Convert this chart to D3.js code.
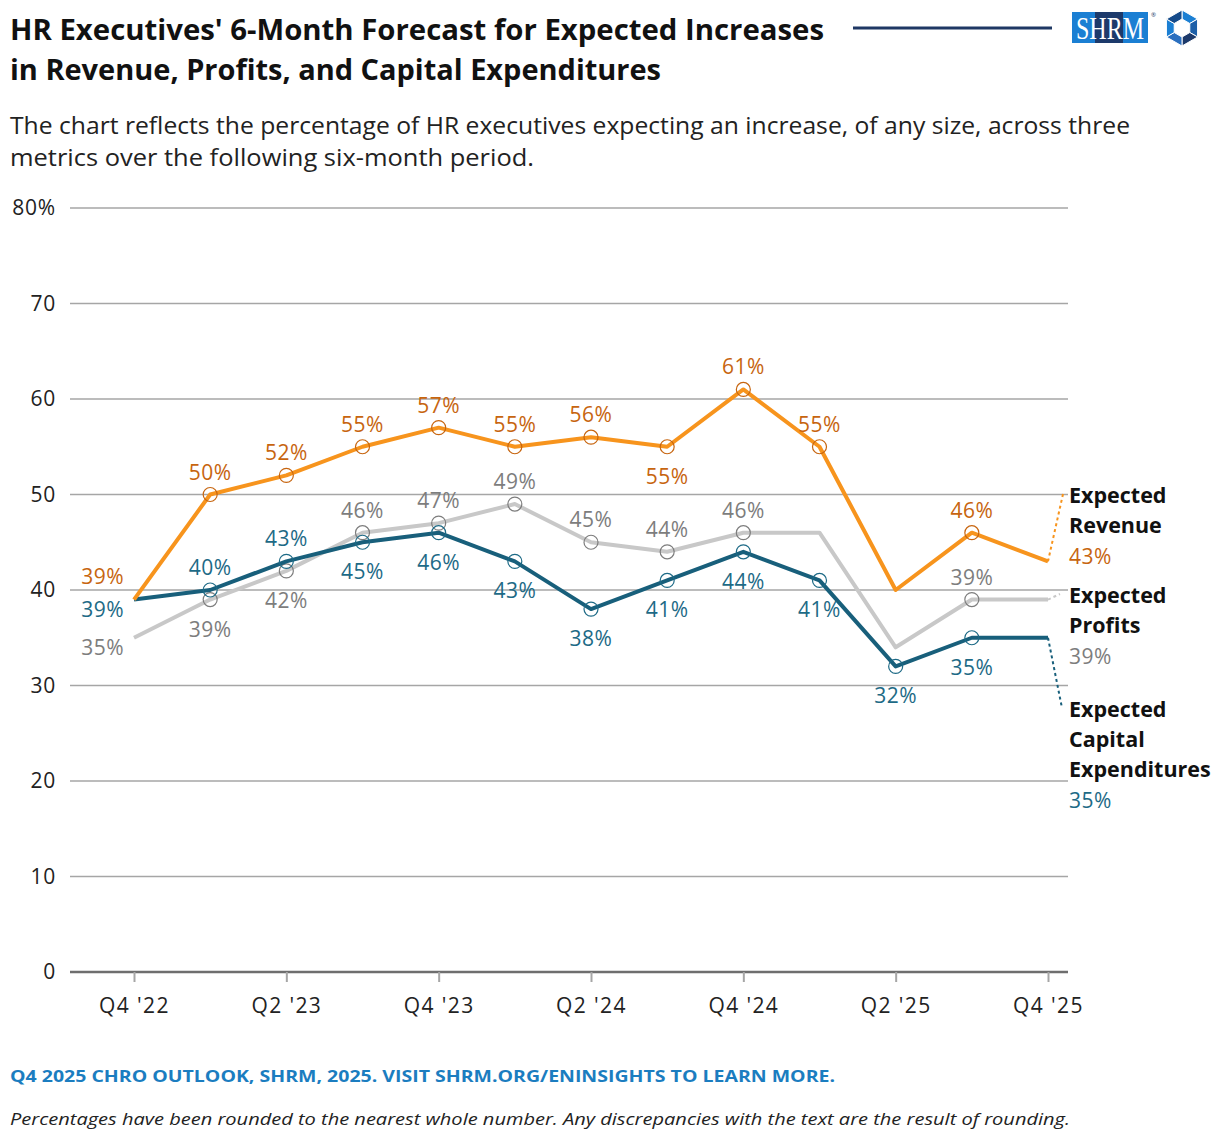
<!DOCTYPE html>
<html>
<head>
<meta charset="utf-8">
<script src="https://cdn.jsdelivr.net/npm/d3@7"></script>
<style>
  body { margin: 0; background: #fff; }
  svg { display: block; font-family: "Open Sans", sans-serif; }
</style>
</head>
<body>
<div id="chart"></div>
<script>
// quarters shown on the x axis (every quarter is a data point)
const quarters = ["Q4 '22", "Q1 '23", "Q2 '23", "Q3 '23", "Q4 '23", "Q1 '24", "Q2 '24",
                  "Q3 '24", "Q4 '24", "Q1 '25", "Q2 '25", "Q3 '25", "Q4 '25"];
const tickQuarters = ["Q4 '22", "Q2 '23", "Q4 '23", "Q2 '24", "Q4 '24", "Q2 '25", "Q4 '25"];
const yTicks = [0, 10, 20, 30, 40, 50, 60, 70, 80];

const revenue = [39, 50, 52, 55, 57, 55, 56, 55, 61, 55, 40, 46, 43];
const profits = [35, 39, 42, 46, 47, 49, 45, 44, 46, 46, 34, 39, 39];
const capex   = [39, 40, 43, 45, 46, 43, 38, 41, 44, 41, 32, 35, 35];

// label placement per point: "a" above, "b" below, "la"/"lb" left side, "" none
const revenuePos = ["la", "a", "a", "a", "a", "a", "a", "b", "a", "a", "", "a", ""];
const profitsPos = ["lb", "b", "b", "a", "a", "a", "a", "a", "a", "", "", "a", ""];
const capexPos   = ["lb", "a", "a", "b", "b", "b", "b", "b", "b", "b", "b", "b", ""];

const series = [
  { name: ["Expected", "Profits"], values: profits, pos: profitsPos, line: "#c8c8c8", text: "#7d7d7d", end: [1060, 594], labelY: 603 },
  { name: ["Expected", "Capital", "Expenditures"], values: capex, pos: capexPos, line: "#185f7b", text: "#1d6a86", end: [1062, 708], labelY: 717 },
  { name: ["Expected", "Revenue"], values: revenue, pos: revenuePos, line: "#f7941d", text: "#c7650f", end: [1063, 494], labelY: 503 }
];

const W = 1220, H = 1142;
const svg = d3.select("#chart").append("svg").attr("width", W).attr("height", H);

// text stretched to the width it has in the original layout
function fitText(sel, x, yPos, str, width) {
  return sel.append("text").attr("x", x).attr("y", yPos)
    .attr("textLength", width).attr("lengthAdjust", "spacingAndGlyphs").text(str);
}

// header
const head = svg.append("g").attr("font-weight", 700).attr("font-size", 28).attr("fill", "#111");
fitText(head, 10, 40, "HR Executives' 6-Month Forecast for Expected Increases", 814);
fitText(head, 10, 80, "in Revenue, Profits, and Capital Expenditures", 651);

const sub = svg.append("g").attr("font-size", 23).attr("fill", "#222");
fitText(sub, 10, 134, "The chart reflects the percentage of HR executives expecting an increase, of any size, across three", 1120);
fitText(sub, 10, 166, "metrics over the following six-month period.", 524);

svg.append("line").attr("x1", 853).attr("x2", 1052).attr("y1", 28).attr("y2", 28)
  .attr("stroke", "#1f3864").attr("stroke-width", 3);

// SHRM logo
const logo = svg.append("g").attr("transform", "translate(1072,12)");
logo.append("rect").attr("width", 76).attr("height", 31).attr("fill", "#1b7fd3");
logo.append("rect").attr("x", 23).attr("width", 28).attr("height", 31).attr("fill", "#1d3a6b");
logo.append("text").attr("transform", "translate(4,27) scale(1,1.35)")
  .attr("font-family", "'Liberation Serif', serif").attr("font-size", 24).attr("fill", "#fff").text("SHRM");
logo.append("text").attr("x", 79).attr("y", 5).attr("font-size", 6).attr("fill", "#1d3a6b").text("®");
const hex = svg.append("g").attr("transform", "translate(1182,28)");
const hexPts = d3.range(6).map(i => {
  const a = Math.PI / 3 * i - Math.PI / 2;
  return [Math.cos(a) * 18, Math.sin(a) * 18];
});
hexPts.forEach((p, i) => {
  const q = hexPts[(i + 1) % 6];
  const ip = [p[0] * 0.5, p[1] * 0.5], iq = [q[0] * 0.5, q[1] * 0.5];
  hex.append("path")
    .attr("d", `M${p}L${q}L${iq}L${ip}Z`)
    .attr("fill", ["#1b7fd3", "#1d5fa8", "#1d3a6b", "#2a6fbf", "#1b7fd3", "#154b8a"][i])
    .attr("stroke", "#fff").attr("stroke-width", 1);
});

// scales
const x = d3.scalePoint().domain(quarters).range([134, 1048]);
const y = d3.scaleLinear().domain([0, 80]).range([972, 208]);

// grid and y labels
svg.append("g").selectAll("line").data(yTicks.filter(d => d > 0)).join("line")
  .attr("x1", 70).attr("x2", 1068)
  .attr("y1", d => y(d)).attr("y2", d => y(d))
  .attr("stroke", "#a6a6a6").attr("stroke-width", 1.5);

svg.append("g").selectAll("text").data(yTicks).join("text")
  .attr("x", 56).attr("y", d => y(d) + 7)
  .attr("text-anchor", "end").attr("font-size", 21).attr("letter-spacing", 0.8).attr("fill", "#222")
  .text(d => d === 80 ? "80%" : d);

// x axis
const xAxis = svg.append("g").attr("transform", "translate(0,972)")
  .call(d3.axisBottom(x).tickValues(tickQuarters).tickSize(10).tickPadding(16));
xAxis.select(".domain").attr("d", "M70,0H1068").attr("stroke", "#6e6e6e").attr("stroke-width", 2.5);
xAxis.selectAll(".tick line").attr("stroke", "#a6a6a6").attr("stroke-width", 2);
xAxis.selectAll(".tick text").attr("font-size", 21).attr("letter-spacing", 1.4).attr("fill", "#222")
  .attr("font-family", "'Open Sans', sans-serif");

// lines
const line = d3.line().x((d, i) => x(quarters[i])).y(d => y(d));

series.forEach(s => {
  const g = svg.append("g");
  const last = s.values.length - 1;
  g.append("path").datum(s.values).attr("d", line)
    .attr("fill", "none").attr("stroke", s.line).attr("stroke-width", 4)
    .attr("stroke-linejoin", "round");

  // dotted connector to the end label
  g.append("line")
    .attr("x1", x(quarters[last])).attr("y1", y(s.values[last]))
    .attr("x2", s.end[0]).attr("y2", s.end[1])
    .attr("stroke", s.line).attr("stroke-width", 2).attr("stroke-dasharray", "3,3");

  const pts = s.values.map((v, i) => ({ v, i, pos: s.pos[i] }));

  g.selectAll("circle").data(pts.filter(d => d.pos === "a" || d.pos === "b")).join("circle")
    .attr("cx", d => x(quarters[d.i])).attr("cy", d => y(d.v)).attr("r", 7)
    .attr("fill", "none").attr("stroke", s.text).attr("stroke-width", 1.2);

  g.selectAll("text.v").data(pts.filter(d => d.pos !== "")).join("text")
    .attr("class", "v")
    .attr("x", d => d.pos[0] === "l" ? x(quarters[d.i]) - 10 : x(quarters[d.i]))
    .attr("y", d => {
      const py = y(d.v);
      if (d.pos === "a") return py - 15;
      if (d.pos === "b") return py + 37;
      if (d.pos === "la") return py - 16;
      return py + 17;
    })
    .attr("text-anchor", d => d.pos[0] === "l" ? "end" : "middle")
    .attr("font-size", 21).attr("letter-spacing", 0.5).attr("fill", s.text)
    .text(d => d.v + "%");

  // end label
  const t = g.append("text").attr("font-size", 21.5).attr("font-weight", 700).attr("fill", "#111");
  s.name.forEach((n, k) => t.append("tspan").attr("x", 1069).attr("y", s.labelY + 30 * k).text(n));
  g.append("text").attr("x", 1069).attr("y", s.labelY + 30 * s.name.length + 1)
    .attr("font-size", 21).attr("letter-spacing", 0.5).attr("fill", s.text).text(s.values[last] + "%");
});

// footer
const src = svg.append("g").attr("font-size", 16.5).attr("font-weight", 700).attr("fill", "#1b7dc0");
fitText(src, 10, 1082, "Q4 2025 CHRO OUTLOOK, SHRM, 2025. VISIT SHRM.ORG/ENINSIGHTS TO LEARN MORE.", 825);
const note = svg.append("g").attr("font-size", 17).attr("font-style", "italic").attr("fill", "#222");
fitText(note, 10, 1125, "Percentages have been rounded to the nearest whole number. Any discrepancies with the text are the result of rounding.", 1060);
</script>
</body>
</html>
